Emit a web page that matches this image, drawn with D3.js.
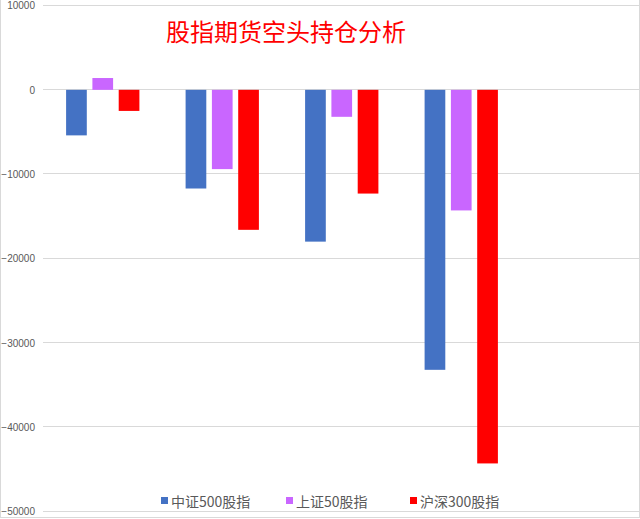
<!DOCTYPE html>
<html><head><meta charset="utf-8">
<script src="https://cdn.jsdelivr.net/npm/d3@7"></script>
<style>html,body{margin:0;padding:0;background:#fff;}svg{display:block;}</style>
</head><body>
<script>
const categories = ["1", "2", "3", "4", "5"];
const seriesNames = ["中证500股指", "上证50股指", "沪深300股指"];
const csi500 = [-5400, -11700, -18000, -33200, null];
const sse50 = [1400, -9400, -3200, -14300, null];
const hs300 = [-2500, -16600, -12300, -44300, null];
const yTicks = [10000, 0, -10000, -20000, -30000, -40000, -50000];
const colors = ["#4472c4", "#c966ff", "#ff0000"];
const title = "股指期货空头持仓分析";

const W = 640, H = 519;
const svg = d3.select("body").append("svg").attr("width", W).attr("height", H);
svg.append("rect").attr("x", 0.5).attr("y", -2).attr("width", 639).attr("height", 519.5)
  .attr("fill", "#fff").attr("stroke", "#d9d9d9").attr("stroke-width", 1);

const y = d3.scaleLinear().domain([-50000, 10000]).range([511.5, 5.5]);
const x = d3.scaleBand().domain(categories).range([43, 640.5]).paddingInner(0).paddingOuter(0);
const xs = d3.scaleBand().domain(seriesNames).range([23.1, 96.4]).paddingInner(0.213).paddingOuter(0);

// grid
svg.append("g").selectAll("line").data(yTicks).join("line")
  .attr("x1", 43).attr("x2", 639)
  .attr("y1", d => Math.round(y(d)) - 0.5).attr("y2", d => Math.round(y(d)) - 0.5)
  .attr("stroke", "#d9d9d9").attr("stroke-width", 1);

// y axis labels
const yAxis = d3.axisLeft(y).tickValues(yTicks).tickSize(0).tickPadding(0).tickFormat(d3.format("d"));
const ga = svg.append("g").attr("transform", "translate(35,0)").call(yAxis);
ga.select(".domain").remove();
ga.selectAll("text").attr("fill", "#595959").attr("font-family", "Liberation Sans, Arial, sans-serif").attr("font-size", 10);

// bars
const seriesData = [csi500, sse50, hs300];
seriesData.forEach((vals, si) => {
  svg.append("g").selectAll("rect").data(vals.map((v, i) => ({v, c: categories[i]})).filter(d => d.v != null))
    .join("rect")
    .attr("x", d => x(d.c) + xs(seriesNames[si]))
    .attr("width", xs.bandwidth())
    .attr("y", d => y(Math.max(0, d.v)))
    .attr("height", d => Math.abs(y(d.v) - y(0)))
    .attr("fill", colors[si]);
});

// title
svg.append("text").attr("x", 286).attr("y", 41).attr("text-anchor", "middle")
  .attr("font-family", "Noto Sans CJK SC, sans-serif").attr("font-size", 24).attr("fill", "#ff0000")
  .text(title);

// legend
const legX = [161, 286, 410];
const lg = svg.append("g");
seriesNames.forEach((n, i) => {
  lg.append("rect").attr("x", legX[i]).attr("y", 497).attr("width", 7).attr("height", 7).attr("fill", colors[i]);
  lg.append("text").attr("x", legX[i] + 10).attr("y", 506.5)
    .attr("font-family", "Noto Sans CJK SC, sans-serif").attr("font-size", 14).attr("fill", "#595959")
    .text(n);
});
</script>
</body></html>
